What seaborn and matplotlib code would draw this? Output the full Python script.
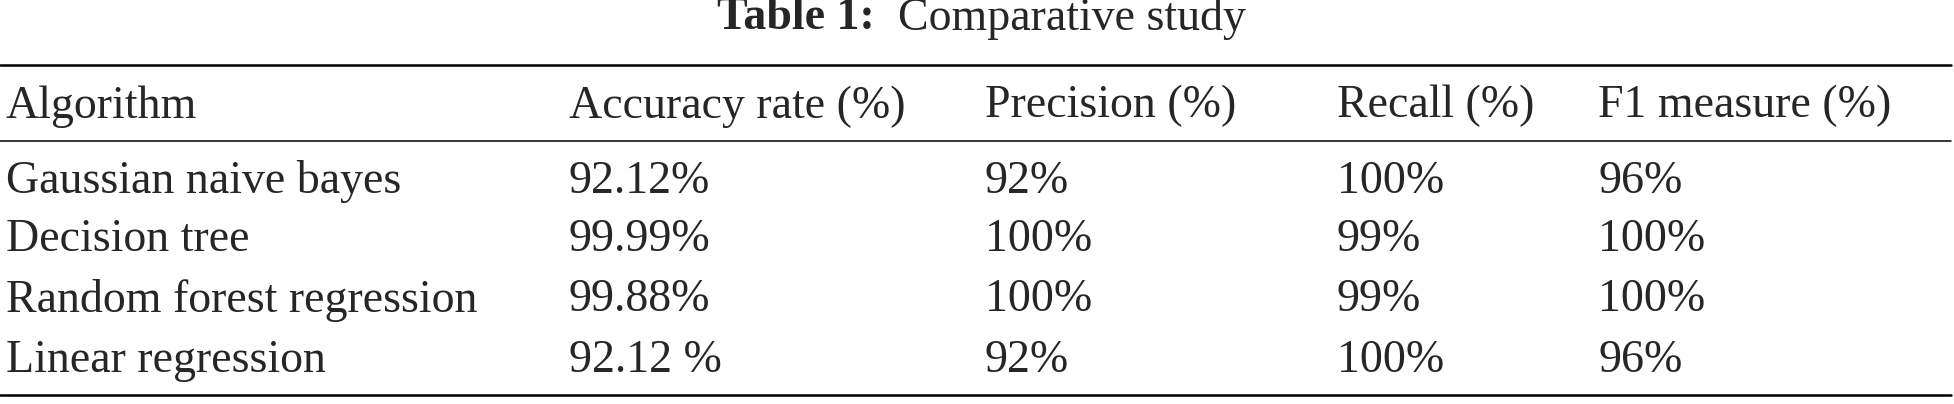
import matplotlib
matplotlib.use("Agg")
import matplotlib.pyplot as plt
import seaborn as sns

# table contents
title_bold = "Table 1:"
title_rest = "  Comparative study"
headers = ["Algorithm", "Accuracy rate (%)", "Precision (%)", "Recall (%)", "F1 measure (%)"]
algorithms = ["Gaussian naive bayes", "Decision tree", "Random forest regression", "Linear regression"]
accuracy = ["92.12%", "99.99%", "99.88%", "92.12 %"]
precision = ["92%", "100%", "100%", "92%"]
recall = ["100%", "99%", "99%", "100%"]
f1 = ["96%", "100%", "100%", "96%"]

sns.set_theme(style="white")
plt.rcParams["font.family"] = ["Liberation Serif", "DejaVu Serif"]

fig = plt.figure(figsize=(19.54, 4.04), dpi=100)
ax = fig.add_axes([0, 0, 1, 1])
ax.set_xlim(0, 1)
ax.set_ylim(1, 0)
ax.axis("off")

fs = 33
col_x = [0.003, 0.291, 0.504, 0.684, 0.818]
row_y = [0.449, 0.594, 0.743, 0.892]

# title: bold label followed by normal text, centred as a whole
t = ax.text(0.5, 0.045, title_bold + title_rest, ha="center", va="center", fontsize=fs, alpha=0)
fig.canvas.draw()
bb = t.get_window_extent().transformed(ax.transData.inverted())
tb = ax.text(bb.x0, 0.045, title_bold, ha="left", va="center", fontsize=fs, fontweight="bold")
bb2 = tb.get_window_extent().transformed(ax.transData.inverted())
ax.text(bb2.x1, 0.045, title_rest, ha="left", va="center", fontsize=fs)

# rules
ax.plot([0, 0.9985], [0.161, 0.161], color="black", lw=1.8)
ax.plot([0, 0.9985], [0.35, 0.35], color="black", lw=1.1)
ax.plot([0, 0.9985], [0.978, 0.978], color="black", lw=1.8)

for x, h in zip(col_x, headers):
    ax.text(x, 0.263, h, ha="left", va="center", fontsize=fs)

columns = [algorithms, accuracy, precision, recall, f1]
for x, col in zip(col_x, columns):
    for y, v in zip(row_y, col):
        ax.text(x, y, v, ha="left", va="center", fontsize=fs)

fig.savefig("out.png", dpi=100, facecolor="white")
